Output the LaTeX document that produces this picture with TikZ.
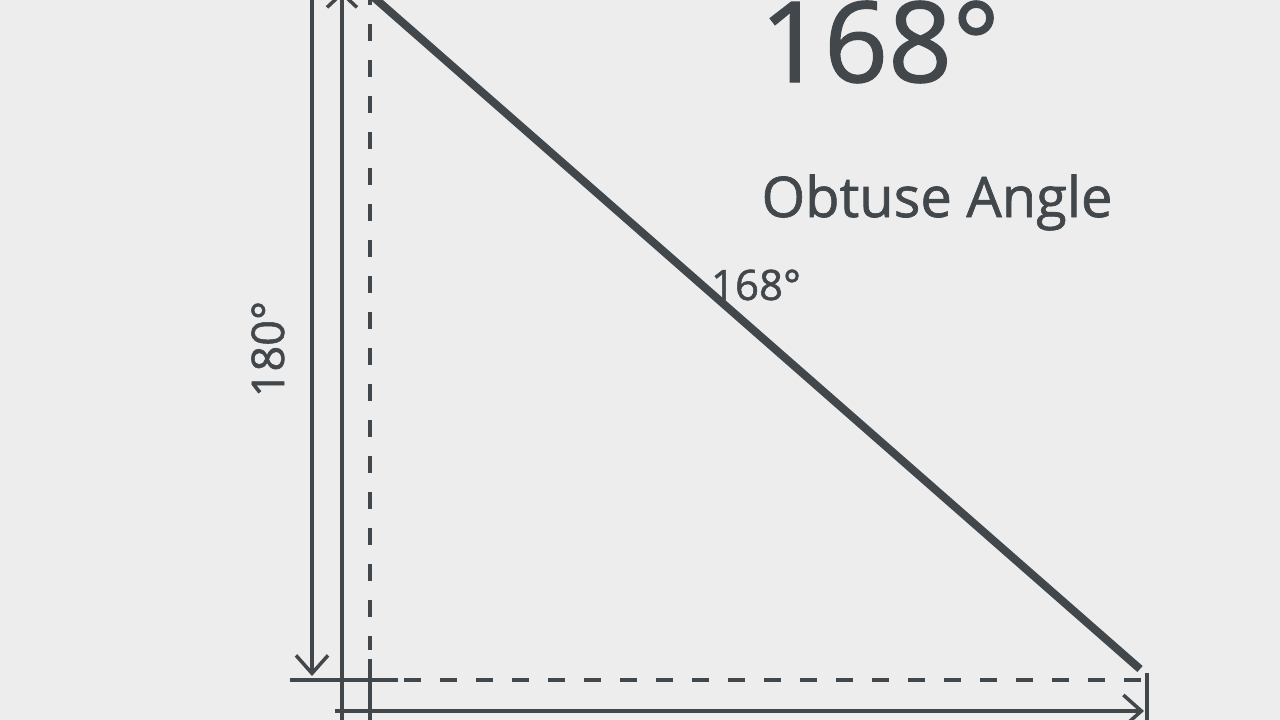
\documentclass[tikz,border=0pt]{standalone}
\usepackage{fontspec}
\setmainfont{Open Sans}[FakeBold=1.2]
\usetikzlibrary{arrows.meta}
\definecolor{bg}{HTML}{EDEDED}
\definecolor{ink}{HTML}{42474C}
\tikzset{
  thin line/.style={draw=ink, line width=3.5pt},
  dash line/.style={draw=ink, line width=3.2pt, dash pattern=on 17pt off 19pt},
  barb/.style={-{Straight Barb[length=18pt,width=32pt,line width=3.5pt]}},
  label text/.style={text=ink, inner sep=0pt, anchor=base},
}
\begin{document}
\begin{tikzpicture}[x=1pt,y=-1pt]
\fill[bg] (0,0) rectangle (1280,720);
\useasboundingbox (0,0) rectangle (1280,720);
% coordinates
\coordinate (dimTop) at (312,-10);
\coordinate (dimBot) at (312,676);
\coordinate (edgeTop) at (342,-9);
\coordinate (edgeBot) at (342,730);
\coordinate (apex) at (370,-6);
\coordinate (dashEnd) at (370,650);
\coordinate (tickTop) at (370,659);
\coordinate (tickBot) at (370,730);
\coordinate (hLeft) at (290,680);
\coordinate (hMid) at (398,680);
\coordinate (hDashEnd) at (1142,680);
\coordinate (bLeft) at (335,711);
\coordinate (bRight) at (1144,711);
\coordinate (rTickTop) at (1147,673);
\coordinate (rTickBot) at (1147,730);
\coordinate (foot) at (1140,669);
% dimension line left with down arrow
\draw[thin line, barb] (dimTop) -- (dimBot);
% vertical edge with up arrow
\draw[thin line, -{Straight Barb[length=14pt,width=30pt,line width=3.5pt]}] (edgeBot) -- (edgeTop);
% dashed vertical
\draw[dash line, dash phase=6pt] (apex) -- (dashEnd);
\draw[thin line] (tickTop) -- (tickBot);
% horizontal lines
\draw[thin line] (hLeft) -- (hMid);
\draw[dash line, dash phase=-6pt] (hMid) -- (hDashEnd);
\draw[thin line, barb] (bLeft) -- (bRight);
\draw[thin line] (rTickTop) -- (rTickBot);
% hypotenuse
\draw[draw=ink, line width=8pt] (apex) -- (foot);
% texts
\node[label text, font=\fontsize{112}{112}\selectfont] (big) at (880,82) {168°};
\node[label text, font=\fontsize{56}{56}\selectfont] (title) at (937,217) {Obtuse Angle};
\node[label text, font=\fontsize{42}{42}\selectfont] (small) at (756,300) {168°};
\node[label text, font=\fontsize{45}{45}\selectfont, rotate=90] (side) at (284,349) {180°};
\end{tikzpicture}
\end{document}
